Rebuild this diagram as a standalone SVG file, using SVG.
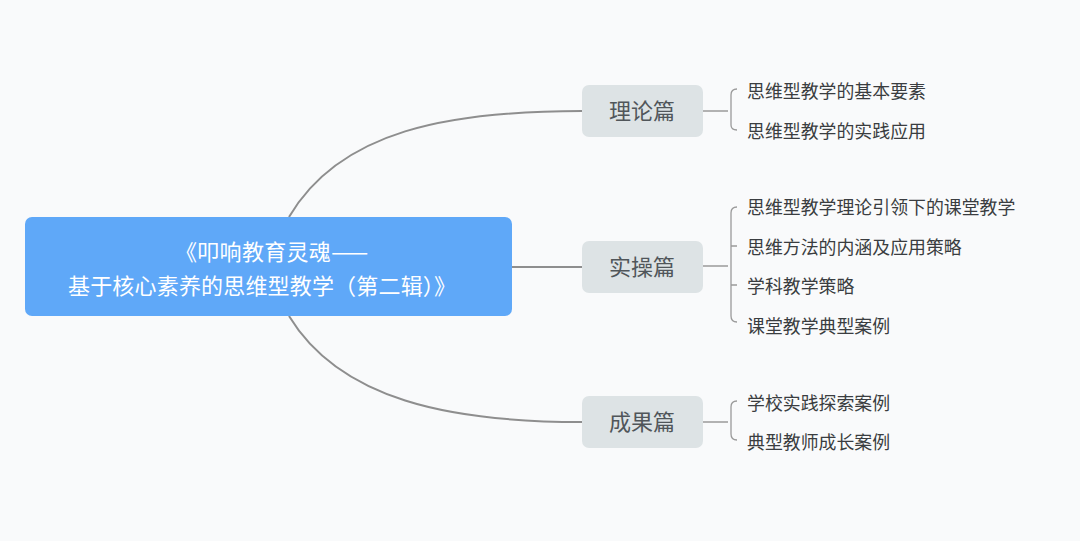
<svg xmlns="http://www.w3.org/2000/svg" width="1080" height="541" viewBox="0 0 1080 541">
<style>
.bg{fill:#f9fafb}
.root{fill:#5fa8f8}
.rt{font-family:"Noto Sans CJK SC","Noto Sans",sans-serif;font-size:22px;fill:#ffffff}
.br{fill:#dde3e5}
.bt{font-family:"Noto Sans CJK SC","Noto Sans",sans-serif;font-size:22px;fill:#50565a;text-anchor:middle}
.lt{font-family:"Noto Sans CJK SC","Noto Sans",sans-serif;font-size:17.9px;fill:#3a3d40}
.ln{fill:none;stroke:#8e8e8e;stroke-width:2}
.bk{fill:none;stroke:#9a9a9a;stroke-width:1.3}
</style>
<rect class="bg" x="0" y="0" width="1080" height="541"/>
<g id="connectors">
<path class="ln" d="M289,217 C340,130 450,111 582,111"/>
<path class="ln" d="M512,267 L582,267"/>
<path class="ln" d="M289,316 C340,400 450,422 582,422"/>
<path class="bk" d="M703,111 H728 M737,89 Q731,89 731,95 V125 Q731,130 737,130"/>
<path class="bk" d="M703,266 H728 M737,207 Q731,207 731,213 V316 Q731,322 737,322 M731,246 Q731,246 737,246 M731,285 Q731,285 737,285"/>
<path class="bk" d="M703,422 H728 M737,401 Q731,401 731,407 V434 Q731,440 737,440"/>
</g>
<g id="root">
<rect class="root" x="25" y="217" width="487" height="99" rx="7"/>
<text class="rt" x="175" y="260" textLength="193" lengthAdjust="spacing">《叩响教育灵魂——</text>
<text class="rt" x="68" y="294" textLength="388" lengthAdjust="spacing">基于核心素养的思维型教学（第二辑）》</text>
</g>
<g id="b1">
<rect class="br" x="582" y="85" width="121" height="52" rx="7"/>
<text class="bt" x="642" y="119">理论篇</text>
</g>
<g id="b2">
<rect class="br" x="582" y="241" width="121" height="52" rx="7"/>
<text class="bt" x="642" y="275">实操篇</text>
</g>
<g id="b3">
<rect class="br" x="582" y="396" width="121" height="52" rx="7"/>
<text class="bt" x="642" y="430">成果篇</text>
</g>
<g id="l1"><text class="lt" x="747" y="98">思维型教学的基本要素</text></g>
<g id="l2"><text class="lt" x="747" y="138">思维型教学的实践应用</text></g>
<g id="l3"><text class="lt" x="747" y="214">思维型教学理论引领下的课堂教学</text></g>
<g id="l4"><text class="lt" x="747" y="254">思维方法的内涵及应用策略</text></g>
<g id="l5"><text class="lt" x="747" y="293">学科教学策略</text></g>
<g id="l6"><text class="lt" x="747" y="333">课堂教学典型案例</text></g>
<g id="l7"><text class="lt" x="747" y="410">学校实践探索案例</text></g>
<g id="l8"><text class="lt" x="747" y="449">典型教师成长案例</text></g>
</svg>
